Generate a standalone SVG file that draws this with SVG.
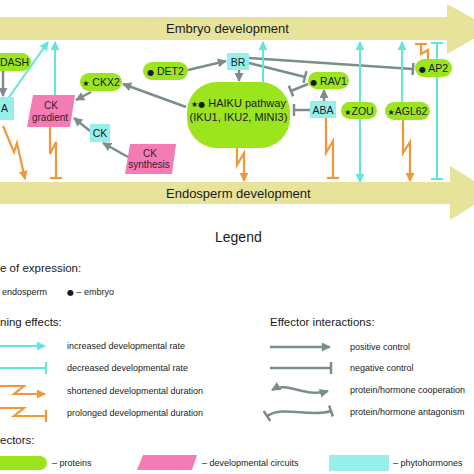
<svg xmlns="http://www.w3.org/2000/svg" width="474" height="474" viewBox="0 0 474 474">
<style>
.band{fill:#e8e39a}
.prot{fill:#9be41e}
.horm{fill:#95f0ea}
.circ{fill:#f47cb4}
.t{font-family:"Liberation Sans",Arial,"DejaVu Sans",sans-serif;fill:#1a1a1a}
.lbl{font-size:10.5px;text-anchor:middle}
.ct{font-size:10px;text-anchor:middle;fill:#3a1a2a}
.sym{font-family:"DejaVu Sans",sans-serif;font-size:8px}
.hd{font-size:11.5px}
.sm{font-size:9px}
.g{fill:none;stroke:#7d8c8c;stroke-width:2.5}
.c{fill:none;stroke:#62e6dc;stroke-width:2}
.o{fill:none;stroke:#f0973a;stroke-width:2.2;stroke-linejoin:miter}
</style>
<defs>
<marker id="ag" viewBox="0 0 10 10" refX="9" refY="5" markerWidth="10" markerHeight="9" orient="auto-start-reverse" markerUnits="userSpaceOnUse"><path d="M0,0 L10,5 L0,10 z" fill="#7d8c8c"/></marker>
<marker id="tg" viewBox="0 0 4 12" refX="2" refY="6" markerWidth="4" markerHeight="12" orient="auto-start-reverse" markerUnits="userSpaceOnUse"><path d="M2,0 V12" stroke="#7d8c8c" stroke-width="2.5"/></marker>
<marker id="ac" viewBox="0 0 10 10" refX="9" refY="5" markerWidth="9" markerHeight="10" orient="auto-start-reverse" markerUnits="userSpaceOnUse"><path d="M0,0 L10,5 L0,10 z" fill="#62e6dc"/></marker>
<marker id="tc" viewBox="0 0 4 12" refX="2" refY="6" markerWidth="4" markerHeight="12" orient="auto-start-reverse" markerUnits="userSpaceOnUse"><path d="M2,0 V12" stroke="#62e6dc" stroke-width="2"/></marker>
<marker id="ao" viewBox="0 0 10 10" refX="9" refY="5" markerWidth="9" markerHeight="10" orient="auto" markerUnits="userSpaceOnUse"><path d="M0,0 L10,5 L0,10 z" fill="#f0973a"/></marker>
<marker id="to" viewBox="0 0 4 12" refX="2" refY="6" markerWidth="4" markerHeight="12" orient="auto" markerUnits="userSpaceOnUse"><path d="M2,0 V12" stroke="#f0973a" stroke-width="2.2"/></marker>
</defs>

<g id="embryo-band">
<rect class="band" x="-5" y="17" width="453" height="23"/>
<polygon class="band" points="447,4 492,28.5 447,54"/>
<text class="t" x="166" y="33" font-size="13">Embryo development</text>
</g>
<g id="endosperm-band">
<rect class="band" x="-5" y="182" width="456" height="22"/>
<polygon class="band" points="450,166 494,193 450,220"/>
<text class="t" x="166" y="198" font-size="13">Endosperm development</text>
</g>

<g id="connectors">
<path class="g" d="M3,71 V96" marker-end="url(#ag)"/>
<path class="g" d="M188,70 L226,61" marker-end="url(#ag)"/>
<path class="g" d="M239,70 V81" marker-end="url(#ag)"/>
<path class="g" d="M186,107 L123,84" marker-end="url(#ag)"/>
<path class="g" d="M91,92 L76,100" marker-end="url(#ag)"/>
<path class="g" d="M90,131 L74,118" marker-end="url(#ag)"/>
<path class="g" d="M128,157 L103,143" marker-end="url(#ag)"/>
<path class="g" d="M324,101 V90" marker-end="url(#ag)"/>
<path class="g" d="M249,58 L413,69" marker-end="url(#tg)"/>
<path class="g" d="M249,63 L305,77" marker-end="url(#tg)"/>
<path class="g" d="M308,84 L291,91" marker-end="url(#tg)"/>
<path class="g" d="M310,110 H294" marker-end="url(#tg)"/>

<path class="c" d="M7,100 L48,42" marker-end="url(#ac)"/>
<path class="c" d="M55,95 V42" marker-end="url(#ac)"/>
<path class="c" d="M263,82 V42" marker-end="url(#ac)"/>
<path class="c" d="M360,42 V182" marker-start="url(#ac)" marker-end="url(#ac)"/>
<path class="c" d="M402,102 V42" marker-end="url(#ac)"/>
<path class="c" d="M437,59 V43" marker-end="url(#tc)"/>
<path class="c" d="M437,77 V179" marker-end="url(#tc)"/>

<path class="o" d="M3,126 L14,152 L17,143 L25,179" marker-end="url(#ao)"/>
<path class="o" d="M50,127 V154 L56,142 V178" marker-end="url(#to)"/>
<path class="o" d="M237,148 V165 L244,153 V181" marker-end="url(#ao)"/>
<path class="o" d="M326,118 V153 L333,141 V178" marker-end="url(#to)"/>
<path class="o" d="M403,120 V153 L410,142 V181" marker-end="url(#ao)"/>
<path class="o" d="M428,59 V50 L421,54 V44" marker-end="url(#to)"/>
</g>

<g id="DASH"><rect class="prot" x="-20" y="53" width="51" height="18" rx="9"/><text class="t" x="0" y="66" font-size="10.5">DASH</text></g>
<g id="A"><rect class="horm" x="-10" y="97" width="24" height="23"/><text class="t" x="8" y="112" font-size="10.5" text-anchor="end">A</text></g>
<g id="CKX2"><rect class="prot" x="80" y="73" width="42" height="18" rx="9"/><text class="t lbl" x="101" y="86"><tspan class="sym">★</tspan> CKX2</text></g>
<g id="DET2"><rect class="prot" x="143" y="62" width="45" height="18" rx="9"/><text class="t lbl" x="165.5" y="75"><tspan class="sym">●</tspan> DET2</text></g>
<g id="BR"><rect class="horm" x="227" y="53" width="22" height="17"/><text class="t lbl" x="238" y="65.5">BR</text></g>
<g id="HAIKU"><rect class="prot" x="187" y="82" width="103" height="66" rx="30"/>
<text class="t" x="238.5" y="107" font-size="11" text-anchor="middle"><tspan class="sym">★●</tspan> HAIKU pathway</text>
<text class="t" x="238.5" y="121" font-size="11" text-anchor="middle">(IKU1, IKU2, MINI3)</text></g>
<g id="RAV1"><rect class="prot" x="308" y="72" width="41" height="17" rx="8.5"/><text class="t lbl" x="328.5" y="84.5"><tspan class="sym">●</tspan> RAV1</text></g>
<g id="ABA"><rect class="horm" x="310" y="101" width="26" height="17"/><text class="t lbl" x="323" y="113.5">ABA</text></g>
<g id="ZOU"><rect class="prot" x="341" y="102" width="36" height="17" rx="8.5"/><text class="t lbl" x="359" y="114.5"><tspan class="sym">★</tspan>ZOU</text></g>
<g id="AGL62"><rect class="prot" x="385" y="102" width="45" height="18" rx="9"/><text class="t lbl" x="407.5" y="115"><tspan class="sym">★</tspan>AGL62</text></g>
<g id="AP2"><rect class="prot" x="415" y="59" width="37" height="18" rx="9"/><text class="t lbl" x="433.5" y="72"><tspan class="sym">●</tspan> AP2</text></g>
<g id="CK-gradient"><polygon class="circ" points="33,95 75,95 70,127 27,127"/><text class="t ct" x="51" y="109">CK</text><text class="t ct" x="50" y="121">gradient</text></g>
<g id="CK"><rect class="horm" x="90" y="124" width="20" height="18"/><text class="t lbl" x="100" y="137">CK</text></g>
<g id="CK-synthesis"><polygon class="circ" points="130,144 176,144 172,174 125,174"/><text class="t ct" x="150" y="157">CK</text><text class="t ct" x="149" y="168">synthesis</text></g>

<g id="legend">
<text class="t" x="215" y="242" font-size="14">Legend</text>
<text class="t hd" x="0" y="272">e of expression:</text>
<text class="t sm" x="2" y="295">endosperm</text>
<text class="t sm" x="67" y="295"><tspan class="sym">●</tspan> – embryo</text>
<text class="t hd" x="0" y="326">ning effects:</text>
<text class="t hd" x="270" y="326">Effector interactions:</text>

<path class="c" d="M-5,346 H45" marker-end="url(#ac)"/>
<path class="c" d="M-5,368 H46" marker-end="url(#tc)"/>
<path class="o" d="M-5,386 H24 L14,394 H45" marker-end="url(#ao)"/>
<path class="o" d="M-5,408 H24 L14,416 H46" marker-end="url(#to)"/>
<text class="t sm" x="67" y="349">increased developmental rate</text>
<text class="t sm" x="67" y="371">decreased developmental rate</text>
<text class="t sm" x="67" y="394">shortened developmental duration</text>
<text class="t sm" x="67" y="416">prolonged developmental duration</text>

<path class="g" d="M270,347 H330" marker-end="url(#ag)"/>
<path class="g" d="M270,368 H331" marker-end="url(#tg)"/>
<path class="g" d="M272,390 C288,381 304,398 328,391" marker-start="url(#ag)" marker-end="url(#ag)"/>
<path class="g" d="M267,416 C283,405 310,418 331,411" marker-start="url(#tg)" marker-end="url(#tg)"/>
<text class="t sm" x="350" y="350">positive control</text>
<text class="t sm" x="350" y="371">negative control</text>
<text class="t sm" x="350" y="393">protein/hormone cooperation</text>
<text class="t sm" x="350" y="415">protein/hormone antagonism</text>

<text class="t hd" x="0" y="444">ectors:</text>
<rect class="prot" x="-15" y="456" width="62" height="14" rx="7"/>
<text class="t sm" x="52" y="466">– proteins</text>
<polygon class="circ" points="143,455 197,455 192,470 137,470"/>
<text class="t sm" x="202" y="466">– developmental circuits</text>
<rect class="horm" x="329" y="455" width="60" height="16"/>
<text class="t sm" x="393" y="466">– phytohormones</text>
</g>
</svg>
